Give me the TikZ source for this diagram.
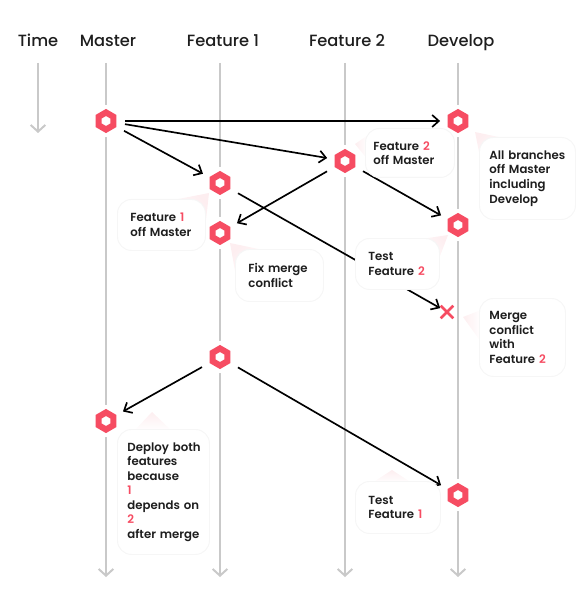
\documentclass[tikz,border=0pt]{standalone}
\usepackage{fontspec}
\setmainfont{Poppins}[UprightFont=* SemiBold]
\newfontfamily\headfont{Poppins}[UprightFont=* Medium]
\usepackage{xcolor}
\usetikzlibrary{positioning}
\usetikzlibrary{arrows.meta}
\usetikzlibrary{shapes.geometric}
\usetikzlibrary{shapes.misc}
\definecolor{hexred}{HTML}{F64C62}
\definecolor{lanegray}{HTML}{C9C9C9}
\definecolor{inkblack}{HTML}{1E1E1E}
\definecolor{tailpink}{HTML}{FDEEF0}
\definecolor{noteedge}{HTML}{F6F6F6}
\newcommand{\rd}[1]{\textcolor{hexred}{#1}}

\tikzset{
  head/.style = {font=\headfont\fontsize{12.2}{14}\selectfont, text=inkblack, inner sep=0pt, anchor=base},
  lane/.style = {draw=lanegray, line width=1.5pt, -{Straight Barb[length=5pt, width=11pt]}},
  hexmark/.style = {regular polygon, regular polygon sides=6, shape border rotate=30, minimum size=12.8pt, inner sep=0pt,
    fill=white, draw=hexred, line width=4.6pt, preaction={draw=white, line width=10pt}},
  crossmark/.style = {cross out, draw=hexred, line width=1.9pt, minimum size=7.5pt, inner sep=0pt},
  flow/.style = {->, draw=black, line width=1.25pt, shorten <=6.5pt, shorten >=5.6pt},
  notebox/.style 2 args = {draw=noteedge, line width=.7pt, fill=white, rounded corners=10.5pt, anchor=north west,
    text width=#1, minimum height=#2, inner xsep=9.75pt, inner ysep=0pt, align=left, text=inkblack,
    font=\fontsize{8.8}{10.9}\selectfont},
  tail/.style = {top color=tailpink, bottom color=white, shading angle=#1}
}

\begin{document}
\begin{tikzpicture}[>={Straight Barb[length=5pt, width=9pt]}, x=.75pt, y=-.75pt]
\useasboundingbox (0,0) rectangle (580,595);
% column titles
\node[head] (time) at (38,47) {Time};
\node[head] (master) at (108,47) {Master};
\node[head] (feat1) at (223,47) {Feature 1};
\node[head] (feat2) at (347,47) {Feature 2};
\node[head] (devel) at (461,47) {Develop};
\coordinate (timetop) at (38,63);
\coordinate (timeend) at (38,133);
\coordinate (mastertop) at (106,63);
\coordinate (masterend) at (106,577);
\coordinate (feat1top) at (220,63);
\coordinate (feat1end) at (220,577);
\coordinate (feat2top) at (345,63);
\coordinate (feat2end) at (345,577);
\coordinate (develtop) at (458,63);
\coordinate (develend) at (458,577);
\draw[lane] (timetop) -- (timeend);
\draw[lane] (mastertop) -- (masterend);
\draw[lane] (feat1top) -- (feat1end);
\draw[lane] (feat2top) -- (feat2end);
\draw[lane] (develtop) -- (develend);
% commits
\node[hexmark] (M1) at (106,121) {};
\node[hexmark] (M2) at (106,421) {};
\node[hexmark] (A1) at (220,183) {};
\node[hexmark] (A2) at (220,233) {};
\node[hexmark] (A3) at (220,357) {};
\node[hexmark] (B1) at (345,161) {};
\node[hexmark] (D1) at (458,121) {};
\node[hexmark] (D2) at (458,225) {};
\node[hexmark] (D3) at (458,495) {};
\node[crossmark] (X) at (447,312) {};
% merges and branches
\draw[flow] (M1) -- (D1);
\draw[flow] (M1) -- (B1);
\draw[flow] (M1) -- (A1);
\draw[flow] (B1) -- (A2);
\draw[flow] (B1) -- (D2);
\draw[flow, shorten >=.5pt] (A1) -- (X);
\draw[flow] (A3) -- (M2);
\draw[flow] (A3) -- (D3);
% notes
\shade[tail=90] (355,144) -- (368,135) -- (368,160) -- cycle;
\shade[tail=45] (475,132) -- (508,139) -- (481,162) -- cycle;
\shade[tail=-45] (448,235) -- (415,240) -- (437,264) -- cycle;
\shade[tail=-45] (209,193) -- (168,201) -- (204,238) -- cycle;
\shade[tail=45] (230,243) -- (268,251) -- (237,282) -- cycle;
\shade[tail=0] (152,412) -- (134,431) -- (172,431) -- cycle;
\shade[tail=90] (463,317) -- (481,310) -- (481,342) -- cycle;
\shade[tail=0] (392,470) -- (372,483) -- (412,483) -- cycle;
\node[notebox={54.75pt}{36.75pt}, inner xsep=6pt] (noteB) at (365,128) {Feature \rd{2}\\off Master};
\node[notebox={57pt}{61.5pt}, inner xsep=7.5pt] (noteD) at (479,137) {All branches\\off Master\\including\\Develop};
\node[notebox={43.5pt}{38.25pt}] (noteT2) at (355,238) {Test\\Feature \rd{2}};
\node[notebox={46.5pt}{38.25pt}] (noteA) at (117,199) {Feature \rd{1}\\off Master};
\node[notebox={46.5pt}{39pt}] (noteF) at (235,249) {Fix merge\\conflict};
\node[notebox={54pt}{93.75pt}, inner xsep=7.5pt] (noteM) at (117,429) {Deploy~both\\features\\because\\\rd{1}\\depends on\\\rd{2}\\after merge};
\node[notebox={49.5pt}{58.5pt}, inner xsep=7.5pt] (noteX) at (479,298) {Merge\\conflict\\with\\Feature \rd{2}};
\node[notebox={44.25pt}{39pt}] (noteT1) at (355,481) {Test\\Feature \rd{1}};
\end{tikzpicture}
\end{document}
